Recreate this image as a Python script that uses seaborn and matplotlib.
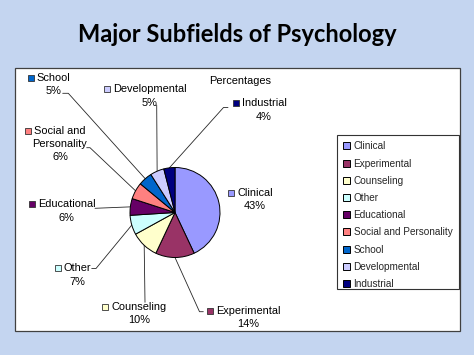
import matplotlib
matplotlib.use("Agg")
import matplotlib.pyplot as plt
from matplotlib.patches import Rectangle
import numpy as np
import seaborn as sns

categories = ["Clinical", "Experimental", "Counseling", "Other", "Educational",
              "Social and Personality", "School", "Developmental", "Industrial"]
label_names = ["Clinical", "Experimental", "Counseling", "Other", "Educational",
               "Social and\nPersonality", "School", "Developmental", "Industrial"]
percentages = [43, 14, 10, 7, 6, 6, 5, 5, 4]
colors = ["#9999FF", "#993366", "#FFFFCC", "#CCFFFF", "#660066",
          "#FF8080", "#0066CC", "#CCCCFF", "#000080"]

title = "Major Subfields of Psychology"
subtitle = "Percentages"

sns.set_theme(style="white")
plt.rcParams['font.family'] = ['Liberation Sans', 'DejaVu Sans']

W, H = 474, 355
def fy(y):
    # image y (top-down) -> data y (bottom-up)
    return H - y

# label layout: (center x, first line y) in image pixels
label_pos = {
    "Clinical": (255, 192.7),
    "Experimental": (248, 310.5),
    "Counseling": (139, 306.7),
    "Other": (77.5, 268.3),
    "Educational": (66.7, 204.3),
    "Social and Personality": (60, 130.5),
    "School": (53.5, 77.7),
    "Developmental": (150, 89),
    "Industrial": (264, 103.3),
}
# leader line points on the label side
leader_start = {
    "Experimental": [(203.3, 311.7), (199.5, 311.7)],
    "Counseling": [(145, 302.3)],
    "Other": [(91.7, 268.5), (96, 268.5)],
    "Educational": [(95, 208.3)],
    "Social and Personality": [(86.7, 147.7), (90, 147.7)],
    "School": [(62.7, 93.3), (68.3, 93.3)],
    "Developmental": [(156.7, 105)],
    "Industrial": [(228, 107.5), (223.5, 107.5)],
}
pie_center = (175, fy(212.5))
pie_radius = 45

fig = plt.figure(figsize=(4.74, 3.55), dpi=100, facecolor="#C4D5F0")
ax = fig.add_axes([0, 0, 1, 1])

# white chart area
ax.add_patch(Rectangle((15, fy(330.5)), 445, 330.5 - 67.5, facecolor="white",
                       edgecolor="#404040", linewidth=0.9, zorder=0))
# legend box
ax.add_patch(Rectangle((337, fy(289)), 122, 289 - 135, facecolor="white",
                       edgecolor="#333333", linewidth=0.8, zorder=1))

wedges, _ = ax.pie(percentages, colors=colors, startangle=90, counterclock=False,
                   center=pie_center, radius=pie_radius,
                   wedgeprops=dict(edgecolor="black", linewidth=0.7))
for w in wedges:
    w.set_zorder(3)

ax.set_xlim(0, W)
ax.set_ylim(0, H)
ax.set_aspect('auto')
ax.axis('off')

renderer = fig.canvas.get_renderer()
lh = 13.5
for cat, name, pct, col, w in zip(categories, label_names, percentages, colors, wedges):
    cx, cy = label_pos[cat]
    lines = name.split("\n") + [f"{pct}%"]
    texts = []
    for i, line in enumerate(lines):
        t = ax.text(cx, fy(cy + i * lh), line, ha="center", va="center",
                    fontsize=7.9, color="black", zorder=4)
        texts.append(t)
    bb = texts[0].get_window_extent(renderer=renderer)
    ax.plot(bb.x0 - 6, fy(cy), marker="s", ms=3.7, mfc=col, mec="#333333",
            mew=0.6, zorder=4)
    if cat in leader_start:
        ang = np.deg2rad((w.theta1 + w.theta2) / 2)
        ex = pie_center[0] + pie_radius * np.cos(ang)
        ey = pie_center[1] + pie_radius * np.sin(ang)
        pts = leader_start[cat]
        xs = [p[0] for p in pts] + [ex]
        ys = [fy(p[1]) for p in pts] + [ey]
        ax.plot(xs, ys, color="#262626", lw=0.6, zorder=2)

ax.text(240, fy(81), subtitle, ha="center", va="center", fontsize=7.9, color="black")

fig.text(0.5, 1 - 42.3 / H, title, ha="center", va="baseline",
         fontsize=17, fontweight="bold", family=["Lato", "DejaVu Sans"], color="black")

leg = ax.legend(wedges, categories, loc="upper left",
                bbox_to_anchor=(335.5 / W, 1 - 134 / H), bbox_transform=fig.transFigure,
                fontsize=7.2, frameon=False,
                handlelength=0.7, handleheight=0.7, handletextpad=0.35,
                borderpad=0.75, labelspacing=0.72, borderaxespad=0)
leg.set_zorder(5)

fig.savefig("out.png", dpi=100, facecolor=fig.get_facecolor())
